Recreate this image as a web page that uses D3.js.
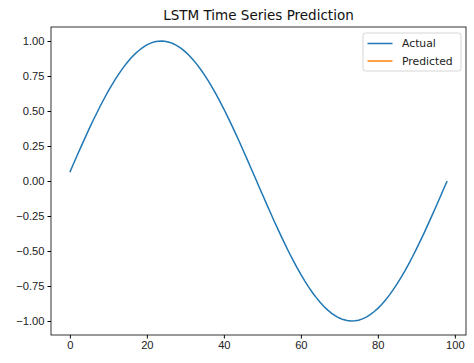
<!DOCTYPE html>
<html>
<head>
<meta charset="utf-8">
<script src="https://cdn.jsdelivr.net/npm/d3@7"></script>
<style>
  body { margin: 0; background: #fff; }
  svg { font-family: "DejaVu Sans", sans-serif; }
  .axis path, .axis line { stroke: #000; }
  .axis text { fill: #222; font-size: 11.2px; }
</style>
</head>
<body>
<div class="chart"></div>
<script>
// values (x = 0..98)
var actual = [0.063, 0.127, 0.189, 0.251, 0.312, 0.372, 0.430, 0.486, 0.541, 0.593,
  0.643, 0.690, 0.735, 0.776, 0.815, 0.850, 0.882, 0.910, 0.934, 0.955,
  0.972, 0.985, 0.994, 0.999, 1.000, 0.997, 0.990, 0.979, 0.964, 0.945,
  0.922, 0.896, 0.866, 0.833, 0.796, 0.756, 0.713, 0.667, 0.618, 0.567,
  0.514, 0.458, 0.401, 0.342, 0.282, 0.220, 0.158, 0.095, 0.032, -0.032,
  -0.095, -0.158, -0.220, -0.282, -0.342, -0.401, -0.458, -0.514, -0.567, -0.618,
  -0.667, -0.713, -0.756, -0.796, -0.833, -0.866, -0.896, -0.922, -0.945, -0.964,
  -0.979, -0.990, -0.997, -1.000, -0.999, -0.994, -0.985, -0.972, -0.955, -0.934,
  -0.910, -0.882, -0.850, -0.815, -0.776, -0.735, -0.690, -0.643, -0.593, -0.541,
  -0.486, -0.430, -0.372, -0.312, -0.251, -0.189, -0.127, -0.063, 0.000];
var predicted = [];
var seriesNames = ["Actual", "Predicted"];
var seriesColors = ["#1f77b4", "#ff7f0e"];
var xTicks = [0, 20, 40, 60, 80, 100];
var yTicks = [-1.00, -0.75, -0.50, -0.25, 0.00, 0.25, 0.50, 0.75, 1.00];
var title = "LSTM Time Series Prediction";

var margin = {top: 27, right: 8, bottom: 28, left: 51},
    width = 474 - margin.left - margin.right,
    height = 363 - margin.top - margin.bottom;

var svg = d3.select(".chart").append("svg")
    .attr("width", width + margin.left + margin.right)
    .attr("height", height + margin.top + margin.bottom)
  .append("g")
    .attr("transform", "translate(" + margin.left + "," + margin.top + ")");

var x = d3.scaleLinear().domain([-4.9, 102.9]).range([0, width]);
var y = d3.scaleLinear().domain([-1.1, 1.1]).range([height, 0]);

var minus = function(s) { return s.replace("-", "\u2212"); };

svg.append("g")
    .attr("class", "x axis")
    .attr("transform", "translate(0," + height + ")")
    .call(d3.axisBottom(x).tickValues(xTicks).tickSize(3.5).tickPadding(3).tickFormat(d3.format("d")))
    .call(function(g) { g.select(".domain").remove(); });

svg.append("g")
    .attr("class", "y axis")
    .call(d3.axisLeft(y).tickValues(yTicks).tickSize(3.5).tickPadding(3)
      .tickFormat(function(d) { return minus(d3.format(".2f")(d)); }))
    .call(function(g) { g.select(".domain").remove(); });

var line = d3.line()
    .x(function(d, i) { return x(i); })
    .y(function(d) { return y(d); });

svg.append("path")
    .datum(actual)
    .attr("fill", "none")
    .attr("stroke", seriesColors[0])
    .attr("stroke-width", 1.5)
    .attr("d", line);

svg.append("path")
    .datum(predicted)
    .attr("fill", "none")
    .attr("stroke", seriesColors[1])
    .attr("stroke-width", 1.5)
    .attr("d", line);

// frame
svg.append("rect")
    .attr("width", width).attr("height", height)
    .attr("fill", "none").attr("stroke", "#000").attr("stroke-width", 0.8);

svg.append("text")
    .attr("x", width / 2).attr("y", -7)
    .attr("text-anchor", "middle")
    .style("font-size", "13.5px")
    .style("fill", "#111")
    .text(title);

// legend
var lg = svg.append("g").attr("transform", "translate(" + (width - 103) + ",6)");
lg.append("rect")
    .attr("width", 98).attr("height", 38).attr("rx", 2.5)
    .attr("fill", "#fff").attr("fill-opacity", 0.8)
    .attr("stroke", "#ccc").attr("stroke-width", 0.8);
seriesNames.forEach(function(name, i) {
  var yy = 10.5 + i * 17.5;
  lg.append("line")
      .attr("x1", 4.5).attr("x2", 29.5).attr("y1", yy).attr("y2", yy)
      .attr("stroke", seriesColors[i]).attr("stroke-width", 1.5);
  lg.append("text")
      .attr("x", 39).attr("y", yy).attr("dy", "0.35em")
      .style("font-size", "10.8px")
      .style("fill", "#222")
      .text(name);
});
</script>
</body>
</html>
